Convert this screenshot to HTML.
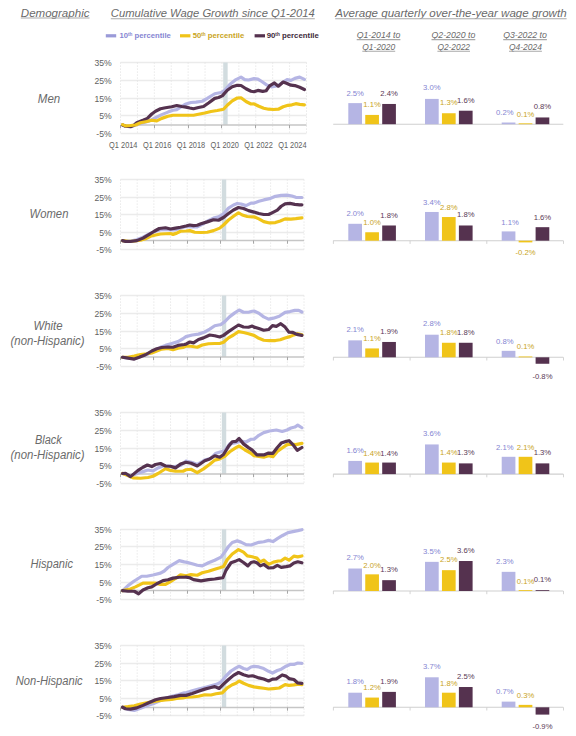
<!DOCTYPE html>
<html><head><meta charset="utf-8"><style>
html,body{margin:0;padding:0;background:#fff;}
svg{display:block;font-family:"Liberation Sans", sans-serif;}
</style></head><body>
<svg width="576" height="736" viewBox="0 0 576 736">
<rect width="576" height="736" fill="#fff"/>
<text x="20.80" y="16.50" text-anchor="start" style="font-size:11.5px;fill:#6a6a6a;font-style:italic;" textLength="68.70" lengthAdjust="spacingAndGlyphs">Demographic</text>
<line x1="20.80" y1="18.00" x2="89.50" y2="18.00" stroke="#a9a9a9" stroke-width="1.1"/>
<text x="110.80" y="17.00" text-anchor="start" style="font-size:11.5px;fill:#6a6a6a;font-style:italic;" textLength="204.00" lengthAdjust="spacingAndGlyphs">Cumulative Wage Growth since Q1-2014</text>
<line x1="110.80" y1="18.80" x2="314.80" y2="18.80" stroke="#a9a9a9" stroke-width="1.1"/>
<text x="335.20" y="17.00" text-anchor="start" style="font-size:11.5px;fill:#6a6a6a;font-style:italic;" textLength="231.40" lengthAdjust="spacingAndGlyphs">Average quarterly over-the-year wage growth</text>
<line x1="335.20" y1="18.80" x2="566.60" y2="18.80" stroke="#a9a9a9" stroke-width="1.1"/>
<text x="356.70" y="38.30" text-anchor="start" style="font-size:9.5px;fill:#6a6a6a;font-style:italic;" textLength="43.70" lengthAdjust="spacingAndGlyphs">Q1-2014 to</text>
<line x1="356.70" y1="39.60" x2="400.40" y2="39.60" stroke="#a9a9a9" stroke-width="1.1"/>
<text x="362.30" y="50.00" text-anchor="start" style="font-size:9.5px;fill:#6a6a6a;font-style:italic;" textLength="32.90" lengthAdjust="spacingAndGlyphs">Q1-2020</text>
<line x1="362.30" y1="51.30" x2="395.20" y2="51.30" stroke="#a9a9a9" stroke-width="1.1"/>
<text x="431.50" y="38.30" text-anchor="start" style="font-size:9.5px;fill:#6a6a6a;font-style:italic;" textLength="43.80" lengthAdjust="spacingAndGlyphs">Q2-2020 to</text>
<line x1="431.50" y1="39.60" x2="475.30" y2="39.60" stroke="#a9a9a9" stroke-width="1.1"/>
<text x="437.40" y="50.00" text-anchor="start" style="font-size:9.5px;fill:#6a6a6a;font-style:italic;" textLength="32.60" lengthAdjust="spacingAndGlyphs">Q2-2022</text>
<line x1="437.40" y1="51.30" x2="470.00" y2="51.30" stroke="#a9a9a9" stroke-width="1.1"/>
<text x="503.20" y="38.30" text-anchor="start" style="font-size:9.5px;fill:#6a6a6a;font-style:italic;" textLength="43.70" lengthAdjust="spacingAndGlyphs">Q3-2022 to</text>
<line x1="503.20" y1="39.60" x2="546.90" y2="39.60" stroke="#a9a9a9" stroke-width="1.1"/>
<text x="509.00" y="50.00" text-anchor="start" style="font-size:9.5px;fill:#6a6a6a;font-style:italic;" textLength="32.90" lengthAdjust="spacingAndGlyphs">Q4-2024</text>
<line x1="509.00" y1="51.30" x2="541.90" y2="51.30" stroke="#a9a9a9" stroke-width="1.1"/>
<rect x="105.80" y="34.2" width="10.4" height="3.2" fill="#9a9ad8"/>
<text x="119.40" y="37.9" style="font-size:7.9px;font-weight:bold;fill:#8585d2" textLength="51.40" lengthAdjust="spacingAndGlyphs">10<tspan dy="-2.4" style="font-size:4.8px">th</tspan><tspan dy="2.4"> percentile</tspan></text>
<rect x="180.00" y="34.2" width="10.4" height="3.2" fill="#f0c419"/>
<text x="192.70" y="37.9" style="font-size:7.9px;font-weight:bold;fill:#c9a41c" textLength="51.50" lengthAdjust="spacingAndGlyphs">50<tspan dy="-2.4" style="font-size:4.8px">th</tspan><tspan dy="2.4"> percentile</tspan></text>
<rect x="254.60" y="34.2" width="10.4" height="3.2" fill="#55324f"/>
<text x="266.70" y="37.9" style="font-size:7.9px;font-weight:bold;fill:#3d2a3a" textLength="52.10" lengthAdjust="spacingAndGlyphs">90<tspan dy="-2.4" style="font-size:4.8px">th</tspan><tspan dy="2.4"> percentile</tspan></text>
<text x="37.80" y="102.50" text-anchor="start" style="font-size:12px;fill:#6a6a6a;font-style:italic;" textLength="22.40" lengthAdjust="spacingAndGlyphs">Men</text>
<text x="29.60" y="217.70" text-anchor="start" style="font-size:12px;fill:#6a6a6a;font-style:italic;" textLength="38.80" lengthAdjust="spacingAndGlyphs">Women</text>
<text x="33.40" y="329.60" text-anchor="start" style="font-size:12px;fill:#6a6a6a;font-style:italic;" textLength="29.20" lengthAdjust="spacingAndGlyphs">White</text>
<text x="10.50" y="344.90" text-anchor="start" style="font-size:12px;fill:#6a6a6a;font-style:italic;" textLength="74.10" lengthAdjust="spacingAndGlyphs">(non-Hispanic)</text>
<text x="35.00" y="444.00" text-anchor="start" style="font-size:12px;fill:#6a6a6a;font-style:italic;" textLength="26.80" lengthAdjust="spacingAndGlyphs">Black</text>
<text x="10.50" y="459.30" text-anchor="start" style="font-size:12px;fill:#6a6a6a;font-style:italic;" textLength="74.10" lengthAdjust="spacingAndGlyphs">(non-Hispanic)</text>
<text x="30.60" y="568.30" text-anchor="start" style="font-size:12px;fill:#6a6a6a;font-style:italic;" textLength="42.40" lengthAdjust="spacingAndGlyphs">Hispanic</text>
<text x="15.70" y="685.20" text-anchor="start" style="font-size:12px;fill:#6a6a6a;font-style:italic;" textLength="67.00" lengthAdjust="spacingAndGlyphs">Non-Hispanic</text>
<line x1="120.50" y1="62.50" x2="306.50" y2="62.50" stroke="#ebebeb" stroke-width="1.3"/>
<text x="111.60" y="66.10" text-anchor="end" style="font-size:8.6px;fill:#626262;">35%</text>
<line x1="120.50" y1="80.50" x2="306.50" y2="80.50" stroke="#ebebeb" stroke-width="1.3"/>
<text x="111.60" y="83.85" text-anchor="end" style="font-size:8.6px;fill:#626262;">25%</text>
<line x1="120.50" y1="98.50" x2="306.50" y2="98.50" stroke="#ebebeb" stroke-width="1.3"/>
<text x="111.60" y="101.60" text-anchor="end" style="font-size:8.6px;fill:#626262;">15%</text>
<line x1="120.50" y1="115.50" x2="306.50" y2="115.50" stroke="#ebebeb" stroke-width="1.3"/>
<text x="111.60" y="119.35" text-anchor="end" style="font-size:8.6px;fill:#626262;">5%</text>
<line x1="120.50" y1="133.50" x2="306.50" y2="133.50" stroke="#ebebeb" stroke-width="1.3"/>
<text x="111.60" y="137.10" text-anchor="end" style="font-size:8.6px;fill:#626262;">-5%</text>
<line x1="120.50" y1="62.50" x2="120.50" y2="133.50" stroke="#e3e3e3" stroke-width="1.0" stroke-dasharray="1.2 1.8"/>
<line x1="137.41" y1="62.50" x2="137.41" y2="133.50" stroke="#e3e3e3" stroke-width="1.0" stroke-dasharray="1.2 1.8"/>
<line x1="154.32" y1="62.50" x2="154.32" y2="133.50" stroke="#e3e3e3" stroke-width="1.0" stroke-dasharray="1.2 1.8"/>
<line x1="171.23" y1="62.50" x2="171.23" y2="133.50" stroke="#e3e3e3" stroke-width="1.0" stroke-dasharray="1.2 1.8"/>
<line x1="188.14" y1="62.50" x2="188.14" y2="133.50" stroke="#e3e3e3" stroke-width="1.0" stroke-dasharray="1.2 1.8"/>
<line x1="205.05" y1="62.50" x2="205.05" y2="133.50" stroke="#e3e3e3" stroke-width="1.0" stroke-dasharray="1.2 1.8"/>
<line x1="221.95" y1="62.50" x2="221.95" y2="133.50" stroke="#e3e3e3" stroke-width="1.0" stroke-dasharray="1.2 1.8"/>
<line x1="238.86" y1="62.50" x2="238.86" y2="133.50" stroke="#e3e3e3" stroke-width="1.0" stroke-dasharray="1.2 1.8"/>
<line x1="255.77" y1="62.50" x2="255.77" y2="133.50" stroke="#e3e3e3" stroke-width="1.0" stroke-dasharray="1.2 1.8"/>
<line x1="272.68" y1="62.50" x2="272.68" y2="133.50" stroke="#e3e3e3" stroke-width="1.0" stroke-dasharray="1.2 1.8"/>
<line x1="289.59" y1="62.50" x2="289.59" y2="133.50" stroke="#e3e3e3" stroke-width="1.0" stroke-dasharray="1.2 1.8"/>
<line x1="306.50" y1="62.50" x2="306.50" y2="133.50" stroke="#e3e3e3" stroke-width="1.0" stroke-dasharray="1.2 1.8"/>
<rect x="223.22" y="62.50" width="4.44" height="62.50" fill="#d2dcdf"/>
<line x1="120.50" y1="125.00" x2="306.50" y2="125.00" stroke="#c6c6c6" stroke-width="1.6"/>
<line x1="120.50" y1="125.00" x2="120.50" y2="128.20" stroke="#a6a6a6" stroke-width="1.0"/>
<line x1="154.50" y1="125.00" x2="154.50" y2="128.20" stroke="#a6a6a6" stroke-width="1.0"/>
<line x1="188.50" y1="125.00" x2="188.50" y2="128.20" stroke="#a6a6a6" stroke-width="1.0"/>
<line x1="221.50" y1="125.00" x2="221.50" y2="128.20" stroke="#a6a6a6" stroke-width="1.0"/>
<line x1="255.50" y1="125.00" x2="255.50" y2="128.20" stroke="#a6a6a6" stroke-width="1.0"/>
<line x1="289.50" y1="125.00" x2="289.50" y2="128.20" stroke="#a6a6a6" stroke-width="1.0"/>
<polyline points="122.61,125.00 126.75,126.50 131.75,126.50 136.75,124.62 143.00,122.75 149.25,120.88 155.50,117.75 161.75,114.62 168.00,112.12 173.00,110.25 176.75,109.62 181.75,106.50 186.00,104.00 191.00,102.50 196.00,102.12 202.25,101.25 207.25,98.38 214.75,93.75 221.00,92.50 224.75,90.25 229.75,84.62 236.00,79.62 241.00,77.12 244.75,79.62 248.50,80.00 254.00,78.58 257.89,79.07 261.78,81.50 266.64,84.90 271.50,86.85 275.39,86.17 279.28,84.90 283.17,81.99 287.06,79.56 290.94,80.33 294.83,78.39 299.69,77.12 304.39,79.36" fill="none" stroke="#b5b5e4" stroke-width="3.2" stroke-linejoin="round" stroke-linecap="round"/>
<polyline points="122.61,125.00 125.50,126.25 130.50,126.75 134.25,125.00 136.75,122.75 143.00,120.25 147.38,118.38 151.75,114.00 155.50,111.25 160.50,108.75 165.50,107.75 171.75,106.75 176.75,105.50 181.75,106.50 186.00,107.12 189.75,108.00 193.50,108.75 198.50,107.50 203.50,106.50 208.50,103.00 214.75,98.38 218.50,97.50 222.25,95.88 227.25,90.25 232.25,86.75 237.25,85.25 241.00,85.50 246.00,88.75 251.00,91.25 254.00,91.71 257.89,90.44 262.75,91.42 266.15,90.74 269.56,85.88 274.42,82.96 278.31,86.17 283.17,81.99 287.06,83.44 290.94,85.19 294.83,85.58 299.69,87.33 304.39,89.47" fill="none" stroke="#55324f" stroke-width="3.2" stroke-linejoin="round" stroke-linecap="round"/>
<polyline points="122.61,124.62 125.50,125.88 130.50,125.50 135.50,125.00 140.50,122.75 146.75,121.50 151.75,120.25 156.75,120.88 161.75,118.38 168.00,116.25 173.00,115.25 180.50,115.25 186.00,115.25 193.50,115.25 198.50,114.25 204.75,113.00 211.00,111.50 217.25,110.50 223.50,109.25 227.25,105.25 232.25,100.88 237.25,98.00 241.00,97.75 246.00,101.50 251.00,104.00 254.00,103.86 258.86,106.29 263.72,108.24 268.58,109.21 273.44,109.50 278.31,109.21 283.17,106.78 288.03,105.32 291.92,104.83 295.81,103.67 299.69,104.35 304.39,104.83" fill="none" stroke="#f0c419" stroke-width="3.2" stroke-linejoin="round" stroke-linecap="round"/>
<text x="123.30" y="147.50" text-anchor="middle" style="font-size:8.6px;fill:#626262;" textLength="28.40" lengthAdjust="spacingAndGlyphs">Q1 2014</text>
<text x="157.12" y="147.50" text-anchor="middle" style="font-size:8.6px;fill:#626262;" textLength="28.40" lengthAdjust="spacingAndGlyphs">Q1 2016</text>
<text x="190.94" y="147.50" text-anchor="middle" style="font-size:8.6px;fill:#626262;" textLength="28.40" lengthAdjust="spacingAndGlyphs">Q1 2018</text>
<text x="224.75" y="147.50" text-anchor="middle" style="font-size:8.6px;fill:#626262;" textLength="28.40" lengthAdjust="spacingAndGlyphs">Q1 2020</text>
<text x="258.57" y="147.50" text-anchor="middle" style="font-size:8.6px;fill:#626262;" textLength="28.40" lengthAdjust="spacingAndGlyphs">Q1 2022</text>
<text x="292.39" y="147.50" text-anchor="middle" style="font-size:8.6px;fill:#626262;" textLength="28.40" lengthAdjust="spacingAndGlyphs">Q1 2024</text>
<line x1="120.50" y1="179.50" x2="304.00" y2="179.50" stroke="#ebebeb" stroke-width="1.3"/>
<text x="111.60" y="183.10" text-anchor="end" style="font-size:8.6px;fill:#626262;">35%</text>
<line x1="120.50" y1="197.50" x2="304.00" y2="197.50" stroke="#ebebeb" stroke-width="1.3"/>
<text x="111.60" y="200.60" text-anchor="end" style="font-size:8.6px;fill:#626262;">25%</text>
<line x1="120.50" y1="214.50" x2="304.00" y2="214.50" stroke="#ebebeb" stroke-width="1.3"/>
<text x="111.60" y="218.10" text-anchor="end" style="font-size:8.6px;fill:#626262;">15%</text>
<line x1="120.50" y1="232.50" x2="304.00" y2="232.50" stroke="#ebebeb" stroke-width="1.3"/>
<text x="111.60" y="235.60" text-anchor="end" style="font-size:8.6px;fill:#626262;">5%</text>
<line x1="120.50" y1="249.50" x2="304.00" y2="249.50" stroke="#ebebeb" stroke-width="1.3"/>
<text x="111.60" y="253.10" text-anchor="end" style="font-size:8.6px;fill:#626262;">-5%</text>
<line x1="120.50" y1="179.50" x2="120.50" y2="249.50" stroke="#e3e3e3" stroke-width="1.0" stroke-dasharray="1.2 1.8"/>
<line x1="137.18" y1="179.50" x2="137.18" y2="249.50" stroke="#e3e3e3" stroke-width="1.0" stroke-dasharray="1.2 1.8"/>
<line x1="153.86" y1="179.50" x2="153.86" y2="249.50" stroke="#e3e3e3" stroke-width="1.0" stroke-dasharray="1.2 1.8"/>
<line x1="170.55" y1="179.50" x2="170.55" y2="249.50" stroke="#e3e3e3" stroke-width="1.0" stroke-dasharray="1.2 1.8"/>
<line x1="187.23" y1="179.50" x2="187.23" y2="249.50" stroke="#e3e3e3" stroke-width="1.0" stroke-dasharray="1.2 1.8"/>
<line x1="203.91" y1="179.50" x2="203.91" y2="249.50" stroke="#e3e3e3" stroke-width="1.0" stroke-dasharray="1.2 1.8"/>
<line x1="220.59" y1="179.50" x2="220.59" y2="249.50" stroke="#e3e3e3" stroke-width="1.0" stroke-dasharray="1.2 1.8"/>
<line x1="237.27" y1="179.50" x2="237.27" y2="249.50" stroke="#e3e3e3" stroke-width="1.0" stroke-dasharray="1.2 1.8"/>
<line x1="253.95" y1="179.50" x2="253.95" y2="249.50" stroke="#e3e3e3" stroke-width="1.0" stroke-dasharray="1.2 1.8"/>
<line x1="270.64" y1="179.50" x2="270.64" y2="249.50" stroke="#e3e3e3" stroke-width="1.0" stroke-dasharray="1.2 1.8"/>
<line x1="287.32" y1="179.50" x2="287.32" y2="249.50" stroke="#e3e3e3" stroke-width="1.0" stroke-dasharray="1.2 1.8"/>
<line x1="304.00" y1="179.50" x2="304.00" y2="249.50" stroke="#e3e3e3" stroke-width="1.0" stroke-dasharray="1.2 1.8"/>
<rect x="221.84" y="179.50" width="4.38" height="61.00" fill="#d2dcdf"/>
<line x1="120.50" y1="240.50" x2="304.00" y2="240.50" stroke="#c6c6c6" stroke-width="1.6"/>
<line x1="120.50" y1="240.50" x2="120.50" y2="243.70" stroke="#a6a6a6" stroke-width="1.0"/>
<line x1="153.50" y1="240.50" x2="153.50" y2="243.70" stroke="#a6a6a6" stroke-width="1.0"/>
<line x1="187.50" y1="240.50" x2="187.50" y2="243.70" stroke="#a6a6a6" stroke-width="1.0"/>
<line x1="220.50" y1="240.50" x2="220.50" y2="243.70" stroke="#a6a6a6" stroke-width="1.0"/>
<line x1="253.50" y1="240.50" x2="253.50" y2="243.70" stroke="#a6a6a6" stroke-width="1.0"/>
<line x1="287.50" y1="240.50" x2="287.50" y2="243.70" stroke="#a6a6a6" stroke-width="1.0"/>
<polyline points="122.59,240.62 130.50,241.00 136.75,239.75 143.00,237.25 149.25,234.00 155.50,231.25 160.50,229.75 168.00,229.75 174.25,230.00 180.50,228.12 186.00,226.50 191.00,226.88 197.25,226.88 202.25,224.38 207.25,221.25 213.50,218.12 218.50,216.88 223.50,214.00 228.50,208.12 233.50,205.00 237.25,203.50 241.00,204.00 246.00,205.62 251.00,203.12 254.00,203.14 258.86,201.19 263.72,199.93 269.56,198.67 275.39,196.33 281.22,195.36 287.06,195.07 291.92,196.04 295.81,197.31 299.69,197.50 301.91,197.50" fill="none" stroke="#b5b5e4" stroke-width="3.2" stroke-linejoin="round" stroke-linecap="round"/>
<polyline points="122.59,240.62 128.00,241.25 134.25,241.00 140.50,240.25 145.50,238.75 150.50,236.25 155.50,235.00 160.50,234.00 165.50,233.75 170.50,233.50 173.00,234.38 176.75,233.12 180.50,231.25 186.00,231.00 189.75,230.62 194.75,232.25 201.00,232.50 207.25,232.25 213.50,230.62 219.75,228.12 223.50,225.00 228.50,220.00 233.50,216.25 238.50,212.75 242.25,215.00 247.25,216.50 252.25,216.88 254.00,216.75 258.86,218.89 263.72,221.61 269.56,222.97 275.39,222.58 280.25,221.03 285.11,218.89 290.94,219.08 295.81,218.69 299.69,218.11 301.91,217.92" fill="none" stroke="#f0c419" stroke-width="3.2" stroke-linejoin="round" stroke-linecap="round"/>
<polyline points="122.59,240.62 125.50,241.50 130.50,241.50 136.75,240.62 143.00,238.12 149.25,234.38 154.25,231.25 159.25,228.50 165.50,227.75 170.50,229.00 175.50,228.12 180.50,227.25 186.00,226.00 189.75,225.00 193.50,225.62 197.25,225.25 201.00,223.75 207.25,221.88 213.50,219.75 218.50,220.25 223.50,217.50 228.50,213.50 233.50,210.00 238.50,207.50 243.50,208.50 248.50,210.62 254.00,212.08 258.86,213.54 263.72,214.51 268.58,214.51 273.44,212.08 277.33,210.14 281.22,206.25 285.11,203.82 289.97,203.33 294.83,204.31 299.69,204.79 301.91,204.79" fill="none" stroke="#55324f" stroke-width="3.2" stroke-linejoin="round" stroke-linecap="round"/>
<line x1="120.50" y1="295.50" x2="304.00" y2="295.50" stroke="#ebebeb" stroke-width="1.3"/>
<text x="111.60" y="299.10" text-anchor="end" style="font-size:8.6px;fill:#626262;">35%</text>
<line x1="120.50" y1="313.50" x2="304.00" y2="313.50" stroke="#ebebeb" stroke-width="1.3"/>
<text x="111.60" y="316.85" text-anchor="end" style="font-size:8.6px;fill:#626262;">25%</text>
<line x1="120.50" y1="331.50" x2="304.00" y2="331.50" stroke="#ebebeb" stroke-width="1.3"/>
<text x="111.60" y="334.60" text-anchor="end" style="font-size:8.6px;fill:#626262;">15%</text>
<line x1="120.50" y1="348.50" x2="304.00" y2="348.50" stroke="#ebebeb" stroke-width="1.3"/>
<text x="111.60" y="352.35" text-anchor="end" style="font-size:8.6px;fill:#626262;">5%</text>
<line x1="120.50" y1="366.50" x2="304.00" y2="366.50" stroke="#ebebeb" stroke-width="1.3"/>
<text x="111.60" y="370.10" text-anchor="end" style="font-size:8.6px;fill:#626262;">-5%</text>
<line x1="120.50" y1="295.50" x2="120.50" y2="366.50" stroke="#e3e3e3" stroke-width="1.0" stroke-dasharray="1.2 1.8"/>
<line x1="137.18" y1="295.50" x2="137.18" y2="366.50" stroke="#e3e3e3" stroke-width="1.0" stroke-dasharray="1.2 1.8"/>
<line x1="153.86" y1="295.50" x2="153.86" y2="366.50" stroke="#e3e3e3" stroke-width="1.0" stroke-dasharray="1.2 1.8"/>
<line x1="170.55" y1="295.50" x2="170.55" y2="366.50" stroke="#e3e3e3" stroke-width="1.0" stroke-dasharray="1.2 1.8"/>
<line x1="187.23" y1="295.50" x2="187.23" y2="366.50" stroke="#e3e3e3" stroke-width="1.0" stroke-dasharray="1.2 1.8"/>
<line x1="203.91" y1="295.50" x2="203.91" y2="366.50" stroke="#e3e3e3" stroke-width="1.0" stroke-dasharray="1.2 1.8"/>
<line x1="220.59" y1="295.50" x2="220.59" y2="366.50" stroke="#e3e3e3" stroke-width="1.0" stroke-dasharray="1.2 1.8"/>
<line x1="237.27" y1="295.50" x2="237.27" y2="366.50" stroke="#e3e3e3" stroke-width="1.0" stroke-dasharray="1.2 1.8"/>
<line x1="253.95" y1="295.50" x2="253.95" y2="366.50" stroke="#e3e3e3" stroke-width="1.0" stroke-dasharray="1.2 1.8"/>
<line x1="270.64" y1="295.50" x2="270.64" y2="366.50" stroke="#e3e3e3" stroke-width="1.0" stroke-dasharray="1.2 1.8"/>
<line x1="287.32" y1="295.50" x2="287.32" y2="366.50" stroke="#e3e3e3" stroke-width="1.0" stroke-dasharray="1.2 1.8"/>
<line x1="304.00" y1="295.50" x2="304.00" y2="366.50" stroke="#e3e3e3" stroke-width="1.0" stroke-dasharray="1.2 1.8"/>
<rect x="221.84" y="295.50" width="4.38" height="61.50" fill="#d2dcdf"/>
<line x1="120.50" y1="357.00" x2="304.00" y2="357.00" stroke="#c6c6c6" stroke-width="1.6"/>
<line x1="120.50" y1="357.00" x2="120.50" y2="360.20" stroke="#a6a6a6" stroke-width="1.0"/>
<line x1="153.50" y1="357.00" x2="153.50" y2="360.20" stroke="#a6a6a6" stroke-width="1.0"/>
<line x1="187.50" y1="357.00" x2="187.50" y2="360.20" stroke="#a6a6a6" stroke-width="1.0"/>
<line x1="220.50" y1="357.00" x2="220.50" y2="360.20" stroke="#a6a6a6" stroke-width="1.0"/>
<line x1="253.50" y1="357.00" x2="253.50" y2="360.20" stroke="#a6a6a6" stroke-width="1.0"/>
<line x1="287.50" y1="357.00" x2="287.50" y2="360.20" stroke="#a6a6a6" stroke-width="1.0"/>
<polyline points="122.59,357.25 128.00,358.25 134.25,358.75 141.75,356.00 148.00,354.12 154.25,351.00 160.50,347.25 165.50,345.38 171.75,343.50 178.00,341.62 183.00,338.75 186.00,336.62 192.25,335.00 198.50,334.12 204.75,332.00 209.75,329.12 214.75,325.75 221.00,324.50 224.75,321.62 229.75,316.62 234.75,312.88 239.12,310.00 243.50,312.25 248.50,312.25 252.25,311.25 254.00,311.07 258.86,313.31 263.72,316.90 268.58,319.14 273.44,318.17 279.28,316.22 285.11,312.33 289.97,311.56 294.83,310.39 298.72,310.39 301.91,312.04" fill="none" stroke="#b5b5e4" stroke-width="3.2" stroke-linejoin="round" stroke-linecap="round"/>
<polyline points="122.59,357.25 128.00,357.25 134.25,356.00 140.50,354.50 146.75,353.75 151.75,352.88 156.75,351.00 161.75,349.12 168.00,348.50 173.00,349.75 178.00,348.25 183.00,347.50 186.00,346.00 191.00,346.25 197.25,347.25 202.25,345.00 208.50,343.75 214.75,343.50 219.75,343.50 223.50,342.25 228.50,337.88 233.50,335.00 238.50,331.62 243.50,332.50 248.50,333.75 254.00,335.38 258.86,338.29 263.72,340.24 269.56,340.53 275.39,340.53 280.25,339.75 285.11,338.00 289.97,336.64 293.86,334.89 297.75,333.72 301.91,334.89" fill="none" stroke="#f0c419" stroke-width="3.2" stroke-linejoin="round" stroke-linecap="round"/>
<polyline points="122.59,357.25 126.75,357.88 134.25,359.12 139.25,357.25 145.50,354.75 151.75,351.00 156.75,348.75 161.75,347.50 168.00,347.00 173.00,347.25 178.00,345.38 184.25,344.50 186.00,344.12 189.75,342.00 193.50,342.88 198.50,339.50 203.50,337.88 209.75,335.00 214.75,335.75 219.75,337.00 223.50,335.38 228.50,331.62 233.50,328.25 238.50,325.00 243.50,327.00 248.50,327.25 252.25,326.00 254.00,327.11 258.86,328.57 263.72,330.22 268.58,329.54 272.47,325.65 276.36,326.33 280.74,323.71 285.11,327.11 289.00,332.17 292.89,332.46 296.78,334.40 301.91,335.38" fill="none" stroke="#55324f" stroke-width="3.2" stroke-linejoin="round" stroke-linecap="round"/>
<line x1="120.50" y1="412.50" x2="304.00" y2="412.50" stroke="#ebebeb" stroke-width="1.3"/>
<text x="111.60" y="416.10" text-anchor="end" style="font-size:8.6px;fill:#626262;">35%</text>
<line x1="120.50" y1="430.50" x2="304.00" y2="430.50" stroke="#ebebeb" stroke-width="1.3"/>
<text x="111.60" y="433.85" text-anchor="end" style="font-size:8.6px;fill:#626262;">25%</text>
<line x1="120.50" y1="448.50" x2="304.00" y2="448.50" stroke="#ebebeb" stroke-width="1.3"/>
<text x="111.60" y="451.60" text-anchor="end" style="font-size:8.6px;fill:#626262;">15%</text>
<line x1="120.50" y1="465.50" x2="304.00" y2="465.50" stroke="#ebebeb" stroke-width="1.3"/>
<text x="111.60" y="469.35" text-anchor="end" style="font-size:8.6px;fill:#626262;">5%</text>
<line x1="120.50" y1="483.50" x2="304.00" y2="483.50" stroke="#ebebeb" stroke-width="1.3"/>
<text x="111.60" y="487.10" text-anchor="end" style="font-size:8.6px;fill:#626262;">-5%</text>
<line x1="120.50" y1="412.50" x2="120.50" y2="483.50" stroke="#e3e3e3" stroke-width="1.0" stroke-dasharray="1.2 1.8"/>
<line x1="137.18" y1="412.50" x2="137.18" y2="483.50" stroke="#e3e3e3" stroke-width="1.0" stroke-dasharray="1.2 1.8"/>
<line x1="153.86" y1="412.50" x2="153.86" y2="483.50" stroke="#e3e3e3" stroke-width="1.0" stroke-dasharray="1.2 1.8"/>
<line x1="170.55" y1="412.50" x2="170.55" y2="483.50" stroke="#e3e3e3" stroke-width="1.0" stroke-dasharray="1.2 1.8"/>
<line x1="187.23" y1="412.50" x2="187.23" y2="483.50" stroke="#e3e3e3" stroke-width="1.0" stroke-dasharray="1.2 1.8"/>
<line x1="203.91" y1="412.50" x2="203.91" y2="483.50" stroke="#e3e3e3" stroke-width="1.0" stroke-dasharray="1.2 1.8"/>
<line x1="220.59" y1="412.50" x2="220.59" y2="483.50" stroke="#e3e3e3" stroke-width="1.0" stroke-dasharray="1.2 1.8"/>
<line x1="237.27" y1="412.50" x2="237.27" y2="483.50" stroke="#e3e3e3" stroke-width="1.0" stroke-dasharray="1.2 1.8"/>
<line x1="253.95" y1="412.50" x2="253.95" y2="483.50" stroke="#e3e3e3" stroke-width="1.0" stroke-dasharray="1.2 1.8"/>
<line x1="270.64" y1="412.50" x2="270.64" y2="483.50" stroke="#e3e3e3" stroke-width="1.0" stroke-dasharray="1.2 1.8"/>
<line x1="287.32" y1="412.50" x2="287.32" y2="483.50" stroke="#e3e3e3" stroke-width="1.0" stroke-dasharray="1.2 1.8"/>
<line x1="304.00" y1="412.50" x2="304.00" y2="483.50" stroke="#e3e3e3" stroke-width="1.0" stroke-dasharray="1.2 1.8"/>
<rect x="221.84" y="412.50" width="4.38" height="61.50" fill="#d2dcdf"/>
<line x1="120.50" y1="474.00" x2="304.00" y2="474.00" stroke="#c6c6c6" stroke-width="1.6"/>
<line x1="120.50" y1="474.00" x2="120.50" y2="477.20" stroke="#a6a6a6" stroke-width="1.0"/>
<line x1="153.50" y1="474.00" x2="153.50" y2="477.20" stroke="#a6a6a6" stroke-width="1.0"/>
<line x1="187.50" y1="474.00" x2="187.50" y2="477.20" stroke="#a6a6a6" stroke-width="1.0"/>
<line x1="220.50" y1="474.00" x2="220.50" y2="477.20" stroke="#a6a6a6" stroke-width="1.0"/>
<line x1="253.50" y1="474.00" x2="253.50" y2="477.20" stroke="#a6a6a6" stroke-width="1.0"/>
<line x1="287.50" y1="474.00" x2="287.50" y2="477.20" stroke="#a6a6a6" stroke-width="1.0"/>
<polyline points="122.59,473.50 130.50,476.25 136.75,473.50 143.00,471.62 148.00,470.00 153.00,471.00 158.00,467.88 163.00,466.00 168.00,466.00 173.00,467.00 180.50,465.38 186.00,461.00 192.25,462.62 197.25,464.50 204.75,460.12 211.00,458.25 216.00,453.25 221.00,451.75 224.75,450.75 229.75,443.88 236.00,442.62 241.00,441.00 246.00,442.00 251.00,439.25 254.00,439.22 258.86,435.33 263.72,432.61 269.56,430.96 276.36,429.99 282.19,431.44 287.06,429.99 290.94,428.04 294.83,427.07 297.75,425.12 301.91,427.75" fill="none" stroke="#b5b5e4" stroke-width="3.2" stroke-linejoin="round" stroke-linecap="round"/>
<polyline points="122.59,473.50 126.75,475.00 133.00,477.88 140.50,478.25 148.00,477.50 153.00,476.25 158.00,473.50 165.50,468.75 170.50,470.38 175.50,471.25 183.00,471.25 186.00,469.75 191.00,469.25 197.25,472.62 203.50,468.88 209.75,464.25 214.75,460.12 219.75,458.88 224.75,456.38 229.75,451.75 236.00,447.62 239.12,446.00 244.75,449.75 251.00,453.25 254.00,455.75 258.86,456.53 263.72,457.21 268.58,455.75 272.96,456.72 277.33,451.38 282.19,447.97 287.06,444.57 290.94,444.08 295.81,444.57 301.91,443.31" fill="none" stroke="#f0c419" stroke-width="3.2" stroke-linejoin="round" stroke-linecap="round"/>
<polyline points="122.59,473.50 125.50,473.25 130.50,476.62 138.00,470.38 143.00,467.25 147.38,465.00 151.75,466.62 155.50,464.50 160.50,463.50 165.50,466.00 170.50,466.25 175.50,467.88 180.50,464.12 186.00,462.25 191.00,463.25 197.25,466.00 204.75,460.75 209.75,458.88 214.75,455.75 219.75,457.25 223.50,454.50 228.50,446.38 232.25,441.75 236.00,441.38 239.12,438.50 243.50,443.88 248.50,447.62 252.25,450.12 254.00,451.86 256.92,454.78 263.72,454.97 268.58,453.03 272.96,453.32 277.33,447.49 281.22,443.11 285.11,441.65 289.00,440.68 292.89,444.57 297.26,450.40 301.91,447.49" fill="none" stroke="#55324f" stroke-width="3.2" stroke-linejoin="round" stroke-linecap="round"/>
<line x1="120.50" y1="529.50" x2="304.00" y2="529.50" stroke="#ebebeb" stroke-width="1.3"/>
<text x="111.60" y="532.90" text-anchor="end" style="font-size:8.6px;fill:#626262;">35%</text>
<line x1="120.50" y1="546.50" x2="304.00" y2="546.50" stroke="#ebebeb" stroke-width="1.3"/>
<text x="111.60" y="550.48" text-anchor="end" style="font-size:8.6px;fill:#626262;">25%</text>
<line x1="120.50" y1="564.50" x2="304.00" y2="564.50" stroke="#ebebeb" stroke-width="1.3"/>
<text x="111.60" y="568.05" text-anchor="end" style="font-size:8.6px;fill:#626262;">15%</text>
<line x1="120.50" y1="582.50" x2="304.00" y2="582.50" stroke="#ebebeb" stroke-width="1.3"/>
<text x="111.60" y="585.62" text-anchor="end" style="font-size:8.6px;fill:#626262;">5%</text>
<line x1="120.50" y1="599.50" x2="304.00" y2="599.50" stroke="#ebebeb" stroke-width="1.3"/>
<text x="111.60" y="603.20" text-anchor="end" style="font-size:8.6px;fill:#626262;">-5%</text>
<line x1="120.50" y1="529.30" x2="120.50" y2="599.60" stroke="#e3e3e3" stroke-width="1.0" stroke-dasharray="1.2 1.8"/>
<line x1="137.18" y1="529.30" x2="137.18" y2="599.60" stroke="#e3e3e3" stroke-width="1.0" stroke-dasharray="1.2 1.8"/>
<line x1="153.86" y1="529.30" x2="153.86" y2="599.60" stroke="#e3e3e3" stroke-width="1.0" stroke-dasharray="1.2 1.8"/>
<line x1="170.55" y1="529.30" x2="170.55" y2="599.60" stroke="#e3e3e3" stroke-width="1.0" stroke-dasharray="1.2 1.8"/>
<line x1="187.23" y1="529.30" x2="187.23" y2="599.60" stroke="#e3e3e3" stroke-width="1.0" stroke-dasharray="1.2 1.8"/>
<line x1="203.91" y1="529.30" x2="203.91" y2="599.60" stroke="#e3e3e3" stroke-width="1.0" stroke-dasharray="1.2 1.8"/>
<line x1="220.59" y1="529.30" x2="220.59" y2="599.60" stroke="#e3e3e3" stroke-width="1.0" stroke-dasharray="1.2 1.8"/>
<line x1="237.27" y1="529.30" x2="237.27" y2="599.60" stroke="#e3e3e3" stroke-width="1.0" stroke-dasharray="1.2 1.8"/>
<line x1="253.95" y1="529.30" x2="253.95" y2="599.60" stroke="#e3e3e3" stroke-width="1.0" stroke-dasharray="1.2 1.8"/>
<line x1="270.64" y1="529.30" x2="270.64" y2="599.60" stroke="#e3e3e3" stroke-width="1.0" stroke-dasharray="1.2 1.8"/>
<line x1="287.32" y1="529.30" x2="287.32" y2="599.60" stroke="#e3e3e3" stroke-width="1.0" stroke-dasharray="1.2 1.8"/>
<line x1="304.00" y1="529.30" x2="304.00" y2="599.60" stroke="#e3e3e3" stroke-width="1.0" stroke-dasharray="1.2 1.8"/>
<rect x="221.84" y="529.30" width="4.38" height="61.20" fill="#d2dcdf"/>
<line x1="120.50" y1="590.50" x2="304.00" y2="590.50" stroke="#c6c6c6" stroke-width="1.6"/>
<line x1="120.50" y1="590.50" x2="120.50" y2="593.70" stroke="#a6a6a6" stroke-width="1.0"/>
<line x1="153.50" y1="590.50" x2="153.50" y2="593.70" stroke="#a6a6a6" stroke-width="1.0"/>
<line x1="187.50" y1="590.50" x2="187.50" y2="593.70" stroke="#a6a6a6" stroke-width="1.0"/>
<line x1="220.50" y1="590.50" x2="220.50" y2="593.70" stroke="#a6a6a6" stroke-width="1.0"/>
<line x1="253.50" y1="590.50" x2="253.50" y2="593.70" stroke="#a6a6a6" stroke-width="1.0"/>
<line x1="287.50" y1="590.50" x2="287.50" y2="593.70" stroke="#a6a6a6" stroke-width="1.0"/>
<polyline points="122.59,590.62 128.00,585.62 134.25,581.00 141.75,576.25 146.75,576.25 153.00,575.00 160.50,573.12 164.25,571.00 168.00,567.50 173.00,564.38 179.25,560.62 184.25,561.88 186.00,562.12 192.25,563.75 197.25,565.25 202.25,565.88 208.50,562.75 214.75,560.25 221.00,557.12 224.75,552.12 228.50,546.50 232.25,542.50 237.25,540.88 241.00,542.12 246.00,544.62 251.00,545.00 254.00,543.99 258.86,542.33 263.72,541.75 268.58,540.39 272.96,541.56 277.33,538.64 282.19,535.72 288.03,532.61 292.89,531.64 297.75,530.67 301.91,529.69" fill="none" stroke="#b5b5e4" stroke-width="3.2" stroke-linejoin="round" stroke-linecap="round"/>
<polyline points="122.59,590.62 129.25,589.38 135.50,586.88 143.00,583.12 149.25,583.12 155.50,583.12 160.50,584.38 165.50,584.38 170.50,581.50 175.50,578.50 180.50,574.75 186.00,575.88 191.00,574.62 197.25,575.25 202.25,572.75 208.50,571.25 214.75,569.25 219.75,567.75 223.50,566.50 227.25,559.62 232.25,554.00 238.50,549.62 243.50,552.12 247.25,555.88 252.25,556.75 254.00,557.31 256.92,558.08 260.32,561.97 263.72,560.03 268.58,564.40 273.44,562.17 278.31,561.00 281.22,560.81 285.11,558.08 289.00,560.22 293.86,556.14 297.75,556.92 301.91,555.94" fill="none" stroke="#f0c419" stroke-width="3.2" stroke-linejoin="round" stroke-linecap="round"/>
<polyline points="122.59,590.62 128.00,591.25 134.25,591.25 138.62,593.75 143.00,590.00 148.00,587.75 151.75,586.88 156.75,583.75 163.00,580.62 168.00,579.75 173.00,578.12 179.25,577.25 184.25,577.25 186.00,577.12 189.75,577.75 193.50,579.62 201.00,580.88 208.50,579.62 214.75,579.00 218.50,578.38 222.88,577.75 226.00,570.25 231.00,562.75 236.00,560.88 239.12,559.62 243.50,562.50 247.88,565.88 251.00,562.50 254.00,561.78 256.92,562.75 260.32,565.86 263.72,564.40 268.58,568.00 273.44,567.61 277.33,565.38 281.22,567.32 286.08,566.64 289.97,565.86 293.86,562.94 297.75,561.78 301.91,562.75" fill="none" stroke="#55324f" stroke-width="3.2" stroke-linejoin="round" stroke-linecap="round"/>
<line x1="120.50" y1="645.50" x2="304.00" y2="645.50" stroke="#ebebeb" stroke-width="1.3"/>
<text x="111.60" y="649.10" text-anchor="end" style="font-size:8.6px;fill:#626262;">35%</text>
<line x1="120.50" y1="663.50" x2="304.00" y2="663.50" stroke="#ebebeb" stroke-width="1.3"/>
<text x="111.60" y="666.68" text-anchor="end" style="font-size:8.6px;fill:#626262;">25%</text>
<line x1="120.50" y1="680.50" x2="304.00" y2="680.50" stroke="#ebebeb" stroke-width="1.3"/>
<text x="111.60" y="684.25" text-anchor="end" style="font-size:8.6px;fill:#626262;">15%</text>
<line x1="120.50" y1="698.50" x2="304.00" y2="698.50" stroke="#ebebeb" stroke-width="1.3"/>
<text x="111.60" y="701.83" text-anchor="end" style="font-size:8.6px;fill:#626262;">5%</text>
<line x1="120.50" y1="715.50" x2="304.00" y2="715.50" stroke="#ebebeb" stroke-width="1.3"/>
<text x="111.60" y="719.40" text-anchor="end" style="font-size:8.6px;fill:#626262;">-5%</text>
<line x1="120.50" y1="645.50" x2="120.50" y2="715.80" stroke="#e3e3e3" stroke-width="1.0" stroke-dasharray="1.2 1.8"/>
<line x1="137.18" y1="645.50" x2="137.18" y2="715.80" stroke="#e3e3e3" stroke-width="1.0" stroke-dasharray="1.2 1.8"/>
<line x1="153.86" y1="645.50" x2="153.86" y2="715.80" stroke="#e3e3e3" stroke-width="1.0" stroke-dasharray="1.2 1.8"/>
<line x1="170.55" y1="645.50" x2="170.55" y2="715.80" stroke="#e3e3e3" stroke-width="1.0" stroke-dasharray="1.2 1.8"/>
<line x1="187.23" y1="645.50" x2="187.23" y2="715.80" stroke="#e3e3e3" stroke-width="1.0" stroke-dasharray="1.2 1.8"/>
<line x1="203.91" y1="645.50" x2="203.91" y2="715.80" stroke="#e3e3e3" stroke-width="1.0" stroke-dasharray="1.2 1.8"/>
<line x1="220.59" y1="645.50" x2="220.59" y2="715.80" stroke="#e3e3e3" stroke-width="1.0" stroke-dasharray="1.2 1.8"/>
<line x1="237.27" y1="645.50" x2="237.27" y2="715.80" stroke="#e3e3e3" stroke-width="1.0" stroke-dasharray="1.2 1.8"/>
<line x1="253.95" y1="645.50" x2="253.95" y2="715.80" stroke="#e3e3e3" stroke-width="1.0" stroke-dasharray="1.2 1.8"/>
<line x1="270.64" y1="645.50" x2="270.64" y2="715.80" stroke="#e3e3e3" stroke-width="1.0" stroke-dasharray="1.2 1.8"/>
<line x1="287.32" y1="645.50" x2="287.32" y2="715.80" stroke="#e3e3e3" stroke-width="1.0" stroke-dasharray="1.2 1.8"/>
<line x1="304.00" y1="645.50" x2="304.00" y2="715.80" stroke="#e3e3e3" stroke-width="1.0" stroke-dasharray="1.2 1.8"/>
<rect x="221.84" y="645.50" width="4.38" height="62.00" fill="#d2dcdf"/>
<line x1="120.50" y1="707.50" x2="304.00" y2="707.50" stroke="#c6c6c6" stroke-width="1.6"/>
<line x1="120.50" y1="707.50" x2="120.50" y2="710.70" stroke="#a6a6a6" stroke-width="1.0"/>
<line x1="153.50" y1="707.50" x2="153.50" y2="710.70" stroke="#a6a6a6" stroke-width="1.0"/>
<line x1="187.50" y1="707.50" x2="187.50" y2="710.70" stroke="#a6a6a6" stroke-width="1.0"/>
<line x1="220.50" y1="707.50" x2="220.50" y2="710.70" stroke="#a6a6a6" stroke-width="1.0"/>
<line x1="253.50" y1="707.50" x2="253.50" y2="710.70" stroke="#a6a6a6" stroke-width="1.0"/>
<line x1="287.50" y1="707.50" x2="287.50" y2="710.70" stroke="#a6a6a6" stroke-width="1.0"/>
<polyline points="122.59,707.25 128.00,709.50 134.25,710.38 140.50,708.25 146.75,705.75 153.00,703.75 159.25,701.00 165.50,698.25 171.75,696.25 178.00,694.75 184.25,692.88 186.00,692.88 192.25,690.75 198.50,689.12 204.75,687.50 211.00,685.75 217.25,684.12 221.00,682.00 226.00,676.00 231.00,671.00 236.00,667.88 239.12,666.25 243.50,668.50 247.25,669.50 251.00,667.00 254.00,666.42 258.86,666.90 263.72,668.56 268.58,671.28 272.47,673.03 277.33,670.50 281.22,669.14 286.08,666.22 289.97,664.47 293.86,664.47 297.75,663.01 301.91,663.31" fill="none" stroke="#b5b5e4" stroke-width="3.2" stroke-linejoin="round" stroke-linecap="round"/>
<polyline points="122.59,707.25 128.00,706.62 134.25,705.75 140.50,704.12 146.75,702.88 153.00,701.62 159.25,700.75 165.50,700.00 171.75,699.50 176.75,698.50 183.00,697.88 186.00,697.25 192.25,697.00 198.50,696.25 204.75,694.75 211.00,695.00 216.00,693.75 222.25,692.88 227.25,687.88 232.25,684.75 236.00,683.25 239.12,681.00 243.50,683.25 248.50,685.38 254.00,686.83 258.86,687.61 263.72,688.29 268.58,688.97 273.44,688.58 279.28,688.00 285.11,684.69 289.00,685.38 293.86,684.89 298.72,684.11 301.91,684.69" fill="none" stroke="#f0c419" stroke-width="3.2" stroke-linejoin="round" stroke-linecap="round"/>
<polyline points="122.59,707.25 125.50,708.75 130.50,709.12 136.75,707.88 143.00,705.38 149.25,702.50 155.50,699.75 160.50,698.50 168.00,697.50 174.25,696.62 180.50,695.38 186.00,695.38 192.25,693.50 198.50,691.25 204.75,689.12 211.00,687.50 214.75,686.62 219.12,688.50 223.50,684.12 228.50,679.50 233.50,675.38 238.50,672.50 243.50,674.75 248.50,676.25 252.25,675.75 254.00,676.14 258.86,677.89 263.72,679.06 268.58,681.00 272.47,679.06 276.36,678.86 282.19,674.97 286.08,676.14 289.00,678.57 293.86,679.54 297.75,682.94 301.91,683.43" fill="none" stroke="#55324f" stroke-width="3.2" stroke-linejoin="round" stroke-linecap="round"/>
<line x1="333.20" y1="124.20" x2="563.30" y2="124.20" stroke="#cfcfcf" stroke-width="1.1"/>
<rect x="348.30" y="103.12" width="13.7" height="21.07" fill="#b5b5e4"/>
<text x="355.15" y="95.70" text-anchor="middle" style="font-size:7.7px;fill:#8585d2;">2.5%</text>
<rect x="365.25" y="114.93" width="13.7" height="9.27" fill="#f0c419"/>
<text x="372.10" y="107.40" text-anchor="middle" style="font-size:7.7px;fill:#c9a41c;">1.1%</text>
<rect x="382.20" y="103.97" width="13.7" height="20.23" fill="#55324f"/>
<text x="389.05" y="95.90" text-anchor="middle" style="font-size:7.7px;fill:#5a3a55;">2.4%</text>
<rect x="425.00" y="98.91" width="13.7" height="25.29" fill="#b5b5e4"/>
<text x="431.85" y="90.20" text-anchor="middle" style="font-size:7.7px;fill:#8585d2;">3.0%</text>
<rect x="441.95" y="113.24" width="13.7" height="10.96" fill="#f0c419"/>
<text x="448.80" y="105.10" text-anchor="middle" style="font-size:7.7px;fill:#c9a41c;">1.3%</text>
<rect x="458.90" y="110.71" width="13.7" height="13.49" fill="#55324f"/>
<text x="465.75" y="102.50" text-anchor="middle" style="font-size:7.7px;fill:#5a3a55;">1.6%</text>
<rect x="501.70" y="122.51" width="13.7" height="1.69" fill="#b5b5e4"/>
<text x="504.85" y="114.90" text-anchor="middle" style="font-size:7.7px;fill:#8585d2;">0.2%</text>
<rect x="518.65" y="123.36" width="13.7" height="0.84" fill="#f0c419"/>
<text x="525.50" y="116.60" text-anchor="middle" style="font-size:7.7px;fill:#c9a41c;">0.1%</text>
<rect x="535.60" y="117.46" width="13.7" height="6.74" fill="#55324f"/>
<text x="542.45" y="108.90" text-anchor="middle" style="font-size:7.7px;fill:#5a3a55;">0.8%</text>
<line x1="333.20" y1="240.70" x2="563.30" y2="240.70" stroke="#cfcfcf" stroke-width="1.1"/>
<line x1="333.40" y1="240.70" x2="333.40" y2="243.90" stroke="#cfcfcf" stroke-width="0.9"/>
<line x1="410.10" y1="240.70" x2="410.10" y2="243.90" stroke="#cfcfcf" stroke-width="0.9"/>
<line x1="486.80" y1="240.70" x2="486.80" y2="243.90" stroke="#cfcfcf" stroke-width="0.9"/>
<line x1="563.50" y1="240.70" x2="563.50" y2="243.90" stroke="#cfcfcf" stroke-width="0.9"/>
<rect x="348.30" y="223.80" width="13.7" height="16.90" fill="#b5b5e4"/>
<text x="355.15" y="215.80" text-anchor="middle" style="font-size:7.7px;fill:#8585d2;">2.0%</text>
<rect x="365.25" y="232.25" width="13.7" height="8.45" fill="#f0c419"/>
<text x="372.10" y="225.05" text-anchor="middle" style="font-size:7.7px;fill:#c9a41c;">1.0%</text>
<rect x="382.20" y="225.49" width="13.7" height="15.21" fill="#55324f"/>
<text x="389.05" y="218.00" text-anchor="middle" style="font-size:7.7px;fill:#5a3a55;">1.8%</text>
<rect x="425.00" y="211.97" width="13.7" height="28.73" fill="#b5b5e4"/>
<text x="431.85" y="204.95" text-anchor="middle" style="font-size:7.7px;fill:#8585d2;">3.4%</text>
<rect x="441.95" y="217.04" width="13.7" height="23.66" fill="#f0c419"/>
<text x="448.80" y="210.15" text-anchor="middle" style="font-size:7.7px;fill:#c9a41c;">2.8%</text>
<rect x="458.90" y="225.49" width="13.7" height="15.21" fill="#55324f"/>
<text x="465.75" y="217.35" text-anchor="middle" style="font-size:7.7px;fill:#5a3a55;">1.8%</text>
<rect x="501.70" y="231.41" width="13.7" height="9.29" fill="#b5b5e4"/>
<text x="510.05" y="224.55" text-anchor="middle" style="font-size:7.7px;fill:#8585d2;">1.1%</text>
<rect x="518.65" y="240.70" width="13.7" height="1.69" fill="#f0c419"/>
<text x="525.50" y="255.35" text-anchor="middle" style="font-size:7.7px;fill:#c9a41c;">-0.2%</text>
<rect x="535.60" y="227.18" width="13.7" height="13.52" fill="#55324f"/>
<text x="542.45" y="219.95" text-anchor="middle" style="font-size:7.7px;fill:#5a3a55;">1.6%</text>
<line x1="333.20" y1="357.30" x2="563.30" y2="357.30" stroke="#cfcfcf" stroke-width="1.1"/>
<line x1="333.40" y1="357.30" x2="333.40" y2="360.50" stroke="#cfcfcf" stroke-width="0.9"/>
<line x1="410.10" y1="357.30" x2="410.10" y2="360.50" stroke="#cfcfcf" stroke-width="0.9"/>
<line x1="486.80" y1="357.30" x2="486.80" y2="360.50" stroke="#cfcfcf" stroke-width="0.9"/>
<line x1="563.50" y1="357.30" x2="563.50" y2="360.50" stroke="#cfcfcf" stroke-width="0.9"/>
<rect x="348.30" y="340.35" width="13.7" height="16.95" fill="#b5b5e4"/>
<text x="355.15" y="331.95" text-anchor="middle" style="font-size:7.7px;fill:#8585d2;">2.1%</text>
<rect x="365.25" y="348.42" width="13.7" height="8.88" fill="#f0c419"/>
<text x="372.10" y="340.95" text-anchor="middle" style="font-size:7.7px;fill:#c9a41c;">1.1%</text>
<rect x="382.20" y="341.97" width="13.7" height="15.33" fill="#55324f"/>
<text x="389.05" y="334.15" text-anchor="middle" style="font-size:7.7px;fill:#5a3a55;">1.9%</text>
<rect x="425.00" y="334.70" width="13.7" height="22.60" fill="#b5b5e4"/>
<text x="431.85" y="326.25" text-anchor="middle" style="font-size:7.7px;fill:#8585d2;">2.8%</text>
<rect x="441.95" y="342.77" width="13.7" height="14.53" fill="#f0c419"/>
<text x="448.80" y="334.55" text-anchor="middle" style="font-size:7.7px;fill:#c9a41c;">1.8%</text>
<rect x="458.90" y="342.77" width="13.7" height="14.53" fill="#55324f"/>
<text x="465.75" y="334.55" text-anchor="middle" style="font-size:7.7px;fill:#5a3a55;">1.8%</text>
<rect x="501.70" y="350.84" width="13.7" height="6.46" fill="#b5b5e4"/>
<text x="504.85" y="344.05" text-anchor="middle" style="font-size:7.7px;fill:#8585d2;">0.8%</text>
<rect x="518.65" y="356.49" width="13.7" height="0.81" fill="#f0c419"/>
<text x="525.50" y="349.05" text-anchor="middle" style="font-size:7.7px;fill:#c9a41c;">0.1%</text>
<rect x="535.60" y="357.30" width="13.7" height="6.46" fill="#55324f"/>
<text x="542.45" y="378.95" text-anchor="middle" style="font-size:7.7px;fill:#5a3a55;">-0.8%</text>
<line x1="333.20" y1="474.10" x2="563.30" y2="474.10" stroke="#cfcfcf" stroke-width="1.1"/>
<line x1="333.40" y1="474.10" x2="333.40" y2="477.30" stroke="#cfcfcf" stroke-width="0.9"/>
<line x1="410.10" y1="474.10" x2="410.10" y2="477.30" stroke="#cfcfcf" stroke-width="0.9"/>
<line x1="486.80" y1="474.10" x2="486.80" y2="477.30" stroke="#cfcfcf" stroke-width="0.9"/>
<line x1="563.50" y1="474.10" x2="563.50" y2="477.30" stroke="#cfcfcf" stroke-width="0.9"/>
<rect x="348.30" y="460.92" width="13.7" height="13.18" fill="#b5b5e4"/>
<text x="355.15" y="453.35" text-anchor="middle" style="font-size:7.7px;fill:#8585d2;">1.6%</text>
<rect x="365.25" y="462.56" width="13.7" height="11.54" fill="#f0c419"/>
<text x="372.10" y="455.85" text-anchor="middle" style="font-size:7.7px;fill:#c9a41c;">1.4%</text>
<rect x="382.20" y="462.56" width="13.7" height="11.54" fill="#55324f"/>
<text x="389.05" y="455.85" text-anchor="middle" style="font-size:7.7px;fill:#5a3a55;">1.4%</text>
<rect x="425.00" y="444.44" width="13.7" height="29.66" fill="#b5b5e4"/>
<text x="431.85" y="435.85" text-anchor="middle" style="font-size:7.7px;fill:#8585d2;">3.6%</text>
<rect x="441.95" y="462.56" width="13.7" height="11.54" fill="#f0c419"/>
<text x="448.80" y="455.45" text-anchor="middle" style="font-size:7.7px;fill:#c9a41c;">1.4%</text>
<rect x="458.90" y="463.39" width="13.7" height="10.71" fill="#55324f"/>
<text x="465.75" y="455.45" text-anchor="middle" style="font-size:7.7px;fill:#5a3a55;">1.3%</text>
<rect x="501.70" y="456.80" width="13.7" height="17.30" fill="#b5b5e4"/>
<text x="504.85" y="449.85" text-anchor="middle" style="font-size:7.7px;fill:#8585d2;">2.1%</text>
<rect x="518.65" y="456.80" width="13.7" height="17.30" fill="#f0c419"/>
<text x="525.50" y="449.85" text-anchor="middle" style="font-size:7.7px;fill:#c9a41c;">2.1%</text>
<rect x="535.60" y="463.39" width="13.7" height="10.71" fill="#55324f"/>
<text x="542.45" y="455.45" text-anchor="middle" style="font-size:7.7px;fill:#5a3a55;">1.3%</text>
<line x1="333.20" y1="591.00" x2="563.30" y2="591.00" stroke="#cfcfcf" stroke-width="1.1"/>
<line x1="333.40" y1="591.00" x2="333.40" y2="594.20" stroke="#cfcfcf" stroke-width="0.9"/>
<line x1="410.10" y1="591.00" x2="410.10" y2="594.20" stroke="#cfcfcf" stroke-width="0.9"/>
<line x1="486.80" y1="591.00" x2="486.80" y2="594.20" stroke="#cfcfcf" stroke-width="0.9"/>
<line x1="563.50" y1="591.00" x2="563.50" y2="594.20" stroke="#cfcfcf" stroke-width="0.9"/>
<rect x="348.30" y="568.51" width="13.7" height="22.49" fill="#b5b5e4"/>
<text x="355.15" y="560.15" text-anchor="middle" style="font-size:7.7px;fill:#8585d2;">2.7%</text>
<rect x="365.25" y="574.34" width="13.7" height="16.66" fill="#f0c419"/>
<text x="372.10" y="567.65" text-anchor="middle" style="font-size:7.7px;fill:#c9a41c;">2.0%</text>
<rect x="382.20" y="580.17" width="13.7" height="10.83" fill="#55324f"/>
<text x="389.05" y="571.95" text-anchor="middle" style="font-size:7.7px;fill:#5a3a55;">1.3%</text>
<rect x="425.00" y="561.85" width="13.7" height="29.16" fill="#b5b5e4"/>
<text x="431.85" y="553.75" text-anchor="middle" style="font-size:7.7px;fill:#8585d2;">3.5%</text>
<rect x="441.95" y="570.17" width="13.7" height="20.82" fill="#f0c419"/>
<text x="448.80" y="562.05" text-anchor="middle" style="font-size:7.7px;fill:#c9a41c;">2.5%</text>
<rect x="458.90" y="561.01" width="13.7" height="29.99" fill="#55324f"/>
<text x="465.75" y="552.85" text-anchor="middle" style="font-size:7.7px;fill:#5a3a55;">3.6%</text>
<rect x="501.70" y="571.84" width="13.7" height="19.16" fill="#b5b5e4"/>
<text x="504.85" y="564.35" text-anchor="middle" style="font-size:7.7px;fill:#8585d2;">2.3%</text>
<rect x="518.65" y="590.17" width="13.7" height="0.83" fill="#f0c419"/>
<text x="525.50" y="583.65" text-anchor="middle" style="font-size:7.7px;fill:#c9a41c;">0.1%</text>
<rect x="535.60" y="590.17" width="13.7" height="0.83" fill="#55324f"/>
<text x="542.45" y="581.65" text-anchor="middle" style="font-size:7.7px;fill:#5a3a55;">0.1%</text>
<line x1="333.20" y1="707.30" x2="563.30" y2="707.30" stroke="#cfcfcf" stroke-width="1.1"/>
<line x1="333.40" y1="707.30" x2="333.40" y2="710.50" stroke="#cfcfcf" stroke-width="0.9"/>
<line x1="410.10" y1="707.30" x2="410.10" y2="710.50" stroke="#cfcfcf" stroke-width="0.9"/>
<line x1="486.80" y1="707.30" x2="486.80" y2="710.50" stroke="#cfcfcf" stroke-width="0.9"/>
<line x1="563.50" y1="707.30" x2="563.50" y2="710.50" stroke="#cfcfcf" stroke-width="0.9"/>
<rect x="348.30" y="692.70" width="13.7" height="14.60" fill="#b5b5e4"/>
<text x="355.15" y="684.15" text-anchor="middle" style="font-size:7.7px;fill:#8585d2;">1.8%</text>
<rect x="365.25" y="697.57" width="13.7" height="9.73" fill="#f0c419"/>
<text x="372.10" y="690.15" text-anchor="middle" style="font-size:7.7px;fill:#c9a41c;">1.2%</text>
<rect x="382.20" y="691.89" width="13.7" height="15.41" fill="#55324f"/>
<text x="389.05" y="683.75" text-anchor="middle" style="font-size:7.7px;fill:#5a3a55;">1.9%</text>
<rect x="425.00" y="677.29" width="13.7" height="30.01" fill="#b5b5e4"/>
<text x="431.85" y="668.55" text-anchor="middle" style="font-size:7.7px;fill:#8585d2;">3.7%</text>
<rect x="441.95" y="692.70" width="13.7" height="14.60" fill="#f0c419"/>
<text x="448.80" y="685.75" text-anchor="middle" style="font-size:7.7px;fill:#c9a41c;">1.8%</text>
<rect x="458.90" y="687.02" width="13.7" height="20.27" fill="#55324f"/>
<text x="465.75" y="679.35" text-anchor="middle" style="font-size:7.7px;fill:#5a3a55;">2.5%</text>
<rect x="501.70" y="701.62" width="13.7" height="5.68" fill="#b5b5e4"/>
<text x="504.85" y="694.15" text-anchor="middle" style="font-size:7.7px;fill:#8585d2;">0.7%</text>
<rect x="518.65" y="704.87" width="13.7" height="2.43" fill="#f0c419"/>
<text x="525.50" y="698.35" text-anchor="middle" style="font-size:7.7px;fill:#c9a41c;">0.3%</text>
<rect x="535.60" y="707.30" width="13.7" height="7.30" fill="#55324f"/>
<text x="542.45" y="729.05" text-anchor="middle" style="font-size:7.7px;fill:#5a3a55;">-0.9%</text>
</svg></body></html>
